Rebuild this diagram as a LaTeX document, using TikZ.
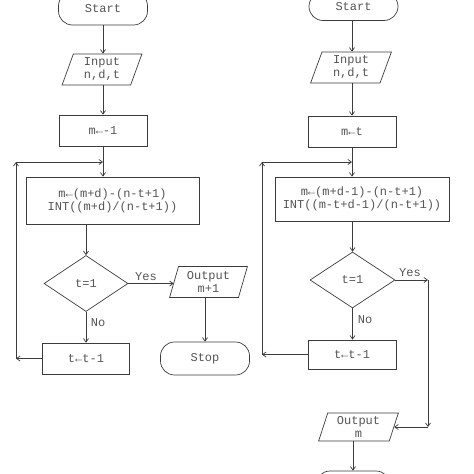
\documentclass[tikz,border=0pt]{standalone}
\usepackage{fontspec}
\setmonofont{Liberation Mono}
\usetikzlibrary{shapes.geometric,arrows.meta}
\definecolor{linec}{HTML}{3C3C3C}
\definecolor{textc}{HTML}{555555}
\newcommand\chartfont{\fontsize{12}{13}\selectfont\ttfamily}
\begin{document}
\begin{tikzpicture}[x=1pt,y=-1pt,
  line/.style={draw=linec, line width=0.7pt},
  arr/.style={line, -{Straight Barb[length=3.5pt,width=5pt]}},
  box/.style={draw=linec, line width=0.7pt, rectangle, inner sep=0pt, text=textc, font=\chartfont, align=center},
  term/.style={box, rounded corners=14pt},
  io/.style={box, trapezium, trapezium left angle=73, trapezium right angle=107, trapezium stretches=true},
  dec/.style={box, diamond},
  lab/.style={text=textc, font=\chartfont, inner sep=0pt}]
\useasboundingbox (0,0) rectangle (474,474);
% left chart
\node[term, minimum width=89pt, minimum height=33pt] (s1) at (103,8.5) {Start};
\node[io, minimum width=80pt, minimum height=31pt] (i1) at (102,69.5) {Input\\n,d,t};
\node[box, minimum width=88pt, minimum height=31pt] (m1) at (103,130.5) {\raisebox{-5pt}{m←-1}};
\node[box, minimum width=173pt, minimum height=47pt] (b1) at (112.5,200.5) {m←(m+d)-(n-t+1)\\INT((m+d)/(n-t+1))};
\node[dec, minimum width=84pt, minimum height=56pt] (d1) at (86,283.5) {t=1};
\node[io, minimum width=78pt, minimum height=31pt] (o1) at (208.5,282) {Output\\m+1};
\node[term, minimum width=89pt, minimum height=33pt] (st1) at (205,358.5) {Stop};
\node[box, minimum width=87pt, minimum height=31pt] (t1) at (86,358.5) {t←t-1};
\node[lab] (y1) at (146,277) {Yes};
\node[lab] (n1) at (98,323) {No};
\coordinate (l1) at (16,162);
\draw[arr] (s1.south) -- (i1.north -| s1.south);
\draw[arr] (i1.south -| m1.north) -- (m1.north);
\draw[arr] (m1.south) -- (m1.south |- b1.north);
\draw[arr] (b1.south -| d1.north) -- (d1.north);
\draw[arr] (d1.east) -- (d1.east -| o1.west);
\draw[arr] (d1.south) -- (t1.north);
\draw[arr] (st1.north |- o1.south) -- (st1.north);
\draw[arr] (t1.west) -- (t1.west -| l1);
\draw[arr] (t1.west -| l1) -- (l1);
\draw[arr] (l1) -- (l1 -| m1.south);
% right chart
\node[term, minimum width=89pt, minimum height=28pt] (s2) at (353.5,6.5) {Start};
\node[io, minimum width=81pt, minimum height=31pt] (i2) at (351,67.5) {Input\\n,d,t};
\node[box, minimum width=88pt, minimum height=31pt] (m2) at (352,131.5) {m←t};
\node[box, minimum width=174pt, minimum height=44pt] (b2) at (362,199) {m←(m+d-1)-(n-t+1)\\INT((m-t+d-1)/(n-t+1))};
\node[dec, minimum width=85pt, minimum height=56pt] (d2) at (352.5,280) {t=1};
\node[box, minimum width=88pt, minimum height=29pt] (t2) at (352,354.5) {t←t-1};
\node[io, minimum width=80pt, minimum height=28pt] (o2) at (358.5,427) {Output\\m};
\node[term, minimum width=74pt, minimum height=33pt] (st2) at (353,487.5) {};
\node[lab] (y2) at (410,273) {Yes};
\node[lab] (n2) at (365,320) {No};
\coordinate (l2) at (262,162);
\coordinate (r2) at (428,280);
\draw[arr] (s2.south -| m2.north) -- (i2.north -| m2.north);
\draw[arr] (i2.south -| m2.north) -- (m2.north);
\draw[arr] (m2.south) -- (m2.south |- b2.north);
\draw[arr] (b2.south -| d2.north) -- (d2.north);
\draw[arr] (d2.south) -- (d2.south |- t2.north);
\draw[arr] (d2.east) -- (r2);
\draw[arr] (r2) -- (r2 |- o2.east);
\draw[arr] (r2 |- o2.east) -- (o2.east);
\draw[arr] (st2.north |- o2.south) -- (st2.north);
\draw[arr] (t2.west) -- (t2.west -| l2);
\draw[arr] (t2.west -| l2) -- (l2);
\draw[arr] (l2) -- (l2 -| m2.south);
\end{tikzpicture}
\end{document}
